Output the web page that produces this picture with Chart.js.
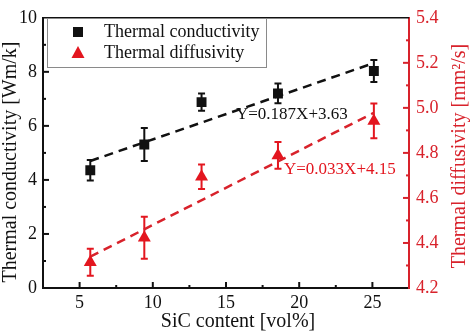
<!DOCTYPE html>
<html>
<head>
<meta charset="utf-8">
<script src="https://cdn.jsdelivr.net/npm/chart.js@4.4.1/dist/chart.umd.min.js"></script>
<style>
  html, body { margin: 0; padding: 0; background: #fff; }
  #wrap { width: 474px; height: 335px; }
</style>
</head>
<body>
<div id="wrap"><canvas id="c" width="474" height="335"></canvas></div>
<script>
// SiC volume fraction of each sample
const sicContent = [5.73, 9.42, 13.33, 18.55, 25.1];
// Thermal conductivity [W/m·K] and its error
const conductivity = [4.36, 5.31, 6.88, 7.20, 8.03];
const conductivityErr = [0.38, 0.61, 0.32, 0.365, 0.41];
// Thermal diffusivity [mm²/s] and its error
const diffusivity = [4.314, 4.423, 4.694, 4.789, 4.942];
const diffusivityErr = [0.06, 0.093, 0.054, 0.059, 0.077];
// Linear fits: [slope, intercept]
const conductivityFit = [0.187, 3.63];
const diffusivityFit = [0.033, 4.15];
const fitLabels = ['Y=0.187X+3.63', 'Y=0.033X+4.15'];

// Axis ticks
const xTicks = [5, 10, 15, 20, 25];
const xTickLabels = ['5', '10', '15', '20', '25'];
const yTicks = [0, 2, 4, 6, 8, 10];
const yTickLabels = ['0', '2', '4', '6', '8', '10'];
const y1Ticks = [4.2, 4.4, 4.6, 4.8, 5.0, 5.2, 5.4];
const y1TickLabels = ['4.2', '4.4', '4.6', '4.8', '5.0', '5.2', '5.4'];

const seriesNames = ['Thermal conductivity', 'Thermal diffusivity'];
const axisTitles = {
  x: 'SiC content [vol%]',
  y: 'Thermal conductivity [Wm/k]',
  y1: 'Thermal diffusivity [mm\u00B2/s]'
};

const SERIF = '"Liberation Serif", "Times New Roman", serif';
const BLACK = '#111111';
const RED = '#e3161f';
const RED_AXIS = '#d8222b';

const pts = (xs, ys) => xs.map((x, i) => ({ x, y: ys[i] }));
const fitLine = (coef) => {
  const x0 = sicContent[0], x1 = sicContent[sicContent.length - 1];
  return [{ x: x0, y: coef[0] * x0 + coef[1] }, { x: x1, y: coef[0] * x1 + coef[1] }];
};

// Error bars behind the markers
const errorBars = {
  id: 'errorBars',
  beforeDatasetsDraw(chart) {
    const ctx = chart.ctx;
    const sx = chart.scales.x;
    const sets = [
      { vals: conductivity, errs: conductivityErr, scale: chart.scales.y, color: BLACK },
      { vals: diffusivity, errs: diffusivityErr, scale: chart.scales.y1, color: RED }
    ];
    ctx.save();
    ctx.lineWidth = 2;
    sets.forEach(s => {
      ctx.strokeStyle = s.color;
      sicContent.forEach((xv, i) => {
        const px = sx.getPixelForValue(xv);
        const top = s.scale.getPixelForValue(s.vals[i] + s.errs[i]);
        const bot = s.scale.getPixelForValue(s.vals[i] - s.errs[i]);
        ctx.beginPath();
        ctx.moveTo(px, top); ctx.lineTo(px, bot);
        ctx.moveTo(px - 3.5, top); ctx.lineTo(px + 3.5, top);
        ctx.moveTo(px - 3.5, bot); ctx.lineTo(px + 3.5, bot);
        ctx.stroke();
      });
    });
    ctx.restore();
  }
};

// Frame, inward ticks, titles, legend and fit annotations
const decorations = {
  id: 'decorations',
  afterDraw(chart) {
    const ctx = chart.ctx;
    const a = chart.chartArea;
    const { x, y, y1 } = chart.scales;
    ctx.save();

    // top frame line
    ctx.strokeStyle = BLACK;
    ctx.lineWidth = 1.5;
    ctx.beginPath();
    ctx.moveTo(a.left, a.top); ctx.lineTo(a.right, a.top);
    ctx.stroke();

    // inward ticks
    const tick = (scale, v, len, horiz, color, fromRight) => {
      const p = scale.getPixelForValue(v);
      ctx.strokeStyle = color;
      ctx.beginPath();
      if (horiz) { ctx.moveTo(p, a.bottom); ctx.lineTo(p, a.bottom - len); }
      else if (fromRight) { ctx.moveTo(a.right, p); ctx.lineTo(a.right - len, p); }
      else { ctx.moveTo(a.left, p); ctx.lineTo(a.left + len, p); }
      ctx.stroke();
    };
    ctx.lineWidth = 2;
    for (let v = 2.5; v <= 27.5; v += 2.5) {
      if (v <= x.min || v >= x.max) continue;
      tick(x, v, Math.abs(v % 5) < 1e-9 ? 6 : 3, true, BLACK);
    }
    for (let v = 1; v < 10; v += 1) tick(y, v, v % 2 === 0 ? 6 : 3, false, BLACK);
    for (let k = 43; k < 54; k++) {
      const v = k / 10;
      tick(y1, v, k % 2 === 0 ? 6 : 3, false, RED_AXIS, true);
    }

    // axis titles
    ctx.font = '20px ' + SERIF;
    ctx.textAlign = 'center';
    ctx.textBaseline = 'middle';
    ctx.fillStyle = BLACK;
    ctx.fillText(axisTitles.x, 238, 322);
    ctx.save();
    ctx.translate(11, 162);
    ctx.rotate(-Math.PI / 2);
    ctx.fillText(axisTitles.y, 0, 0);
    ctx.restore();
    ctx.save();
    ctx.fillStyle = RED_AXIS;
    ctx.translate(460, 156);
    ctx.rotate(-Math.PI / 2);
    ctx.fillText(axisTitles.y1, 0, 0);
    ctx.restore();

    // legend
    ctx.strokeStyle = '#8a8a8a';
    ctx.lineWidth = 1;
    ctx.strokeRect(47.5, 18.5, 219, 49);
    ctx.fillStyle = BLACK;
    ctx.fillRect(73, 27, 10, 10);
    ctx.fillStyle = RED;
    ctx.beginPath();
    ctx.moveTo(78, 46); ctx.lineTo(84.5, 58); ctx.lineTo(71.5, 58); ctx.closePath();
    ctx.fill();
    ctx.font = '18px ' + SERIF;
    ctx.textAlign = 'left';
    ctx.fillStyle = BLACK;
    ctx.fillText(seriesNames[0], 104, 32);
    ctx.fillText(seriesNames[1], 104, 53);

    // fit equations
    ctx.font = '17px ' + SERIF;
    ctx.fillStyle = BLACK;
    ctx.fillText(fitLabels[0], 236, 115);
    ctx.fillStyle = RED;
    ctx.fillText(fitLabels[1], 284, 170);

    ctx.restore();
  }
};

const setTicks = (arr) => (scale) => { scale.ticks = arr.map(v => ({ value: v })); };

new Chart(document.getElementById('c'), {
  type: 'scatter',
  data: {
    datasets: [
      {
        label: seriesNames[0],
        data: pts(sicContent, conductivity),
        yAxisID: 'y',
        pointStyle: 'rect',
        pointRadius: 7,
        backgroundColor: BLACK,
        borderColor: BLACK,
        borderWidth: 0
      },
      {
        label: seriesNames[1],
        data: pts(sicContent, diffusivity),
        yAxisID: 'y1',
        pointStyle: 'triangle',
        pointRadius: 7.5,
        backgroundColor: RED,
        borderColor: RED,
        borderWidth: 0
      },
      {
        label: 'fit-k',
        data: fitLine(conductivityFit),
        yAxisID: 'y',
        showLine: true,
        pointRadius: 0,
        borderColor: BLACK,
        borderWidth: 2.5,
        borderDash: [9, 6]
      },
      {
        label: 'fit-a',
        data: fitLine(diffusivityFit),
        yAxisID: 'y1',
        showLine: true,
        pointRadius: 0,
        borderColor: RED_AXIS,
        borderWidth: 2.5,
        borderDash: [9, 6]
      }
    ]
  },
  options: {
    responsive: false,
    animation: false,
    events: [],
    layout: { padding: { top: 14, left: 0, right: 0, bottom: 0 } },
    plugins: { legend: { display: false }, tooltip: { enabled: false } },
    scales: {
      x: {
        type: 'linear', position: 'bottom', min: 2.5, max: 27.5,
        afterBuildTicks: setTicks(xTicks),
        afterFit: (s) => { s.height = 47; },
        grid: { display: false, drawTicks: false },
        border: { display: true, color: BLACK, width: 2 },
        ticks: { padding: 4, color: BLACK, font: { family: SERIF, size: 18 },
                 callback: (v, i) => xTickLabels[i] }
      },
      y: {
        type: 'linear', position: 'left', min: 0, max: 10,
        afterBuildTicks: setTicks(yTicks),
        afterFit: (s) => { s.width = 43; },
        grid: { display: false, drawTicks: false },
        border: { display: true, color: BLACK, width: 2 },
        ticks: { padding: 6, color: BLACK, font: { family: SERIF, size: 18 },
                 callback: (v, i) => yTickLabels[i] }
      },
      y1: {
        type: 'linear', position: 'right', min: 4.2, max: 5.4,
        afterBuildTicks: setTicks(y1Ticks),
        afterFit: (s) => { s.width = 65; },
        grid: { display: false, drawTicks: false },
        border: { display: true, color: RED_AXIS, width: 2 },
        ticks: { padding: 7, color: RED_AXIS, font: { family: SERIF, size: 18 },
                 callback: (v, i) => y1TickLabels[i] }
      }
    }
  },
  plugins: [errorBars, decorations]
});
</script>
</body>
</html>
